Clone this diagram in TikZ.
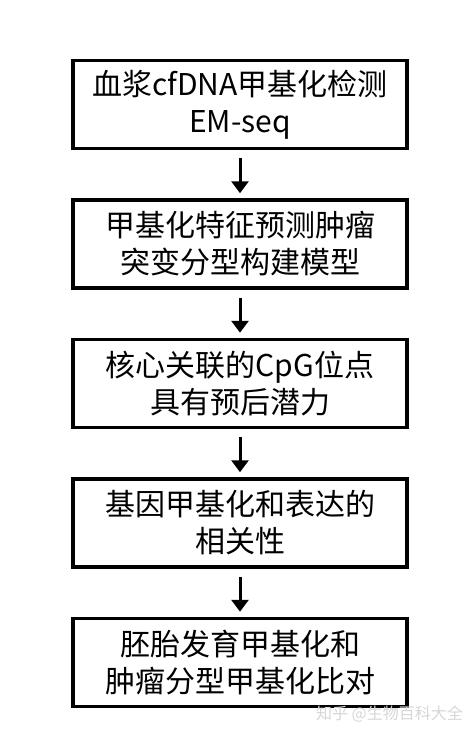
\documentclass[tikz,border=0pt]{standalone}
\usepackage{fontspec}
\setmainfont{Noto Sans CJK SC}
\usetikzlibrary{arrows.meta,positioning}
\tikzstyle{stepbox}=[draw,line width=3.5pt,minimum width=334pt,minimum height=88pt,align=center,inner sep=0pt,font=\fontsize{30pt}{37pt}\selectfont]
\tikzstyle{flow}=[line width=3pt,-{Triangle[length=12pt,width=17pt]},shorten <=8pt,shorten >=5pt]

\begin{document}
\begin{tikzpicture}[node distance=48pt]
    \useasboundingbox (0,0) rectangle (474pt,-736pt);
    \node [stepbox] (detect) at (240pt,-104.5pt) {血浆cfDNA甲基化检测\\EM-seq};
    \node [stepbox, below=of detect] (model) {甲基化特征预测肿瘤\\突变分型构建模型};
    \node [stepbox, below=of model] (cpg) {核心关联的CpG位点\\具有预后潜力};
    \node [stepbox, below=of cpg] (expr) {基因甲基化和表达的\\相关性};
    \node [stepbox, below=of expr] (embryo) {胚胎发育甲基化和\\肿瘤分型甲基化比对};
    \draw [flow] (detect) -- (model);
    \draw [flow] (model) -- (cpg);
    \draw [flow] (cpg) -- (expr);
    \draw [flow] (expr) -- (embryo);
    % watermark
    \node [font=\fontsize{16pt}{16pt}\selectfont,text=black!16,anchor=east,inner sep=0pt] (mark) at (463pt,-714pt) {知乎 @生物百科大全};
  \end{tikzpicture}
\end{document}
